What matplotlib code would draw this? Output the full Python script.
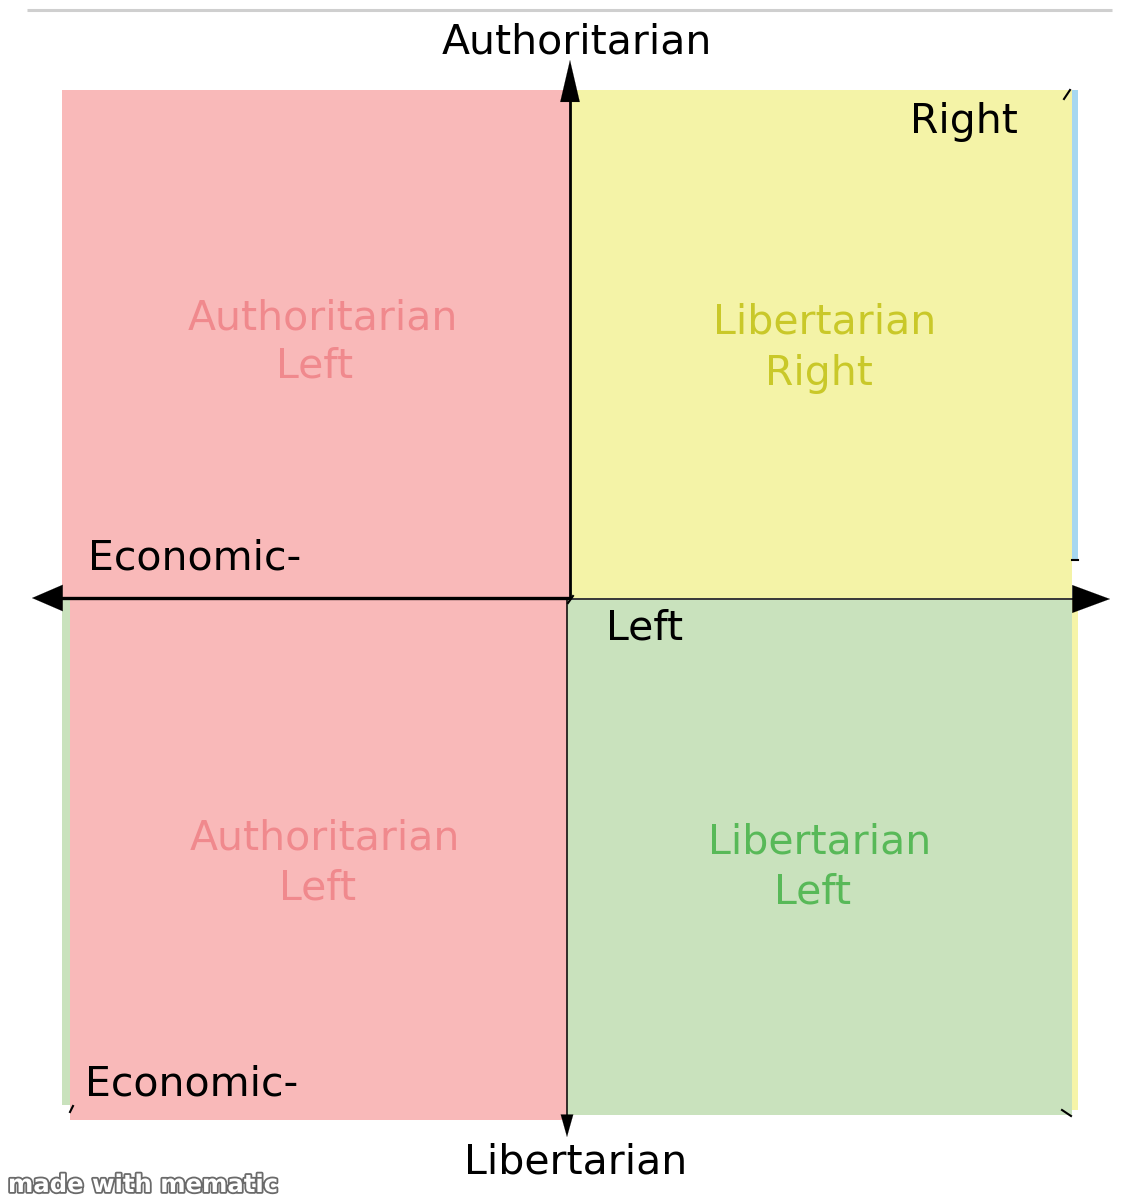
import matplotlib
matplotlib.use("Agg")
import matplotlib.pyplot as plt
import matplotlib.patheffects as pe
from matplotlib.patches import Rectangle

# ---- content ----
quadrant_names = ["Authoritarian\nLeft", "Libertarian\nRight", "Authoritarian\nLeft", "Libertarian\nLeft"]
quadrant_fill = ["#f9b9b9", "#f4f3a7", "#f9b9b9", "#c9e2bd"]
quadrant_text_color = ["#f0898d", "#c9c829", "#f0898d", "#58b958"]
axis_labels = ["Authoritarian", "Libertarian"]
side_labels = ["Right", "Economic-", "Left", "Economic-"]
watermark = "made with mematic"

# ---- layout (pixel space of the 1137x1200 canvas) ----
W, H = 1137, 1200
quad_boxes = [(62, 90, 570, 598), (570, 90, 1072, 598), (70, 600, 567, 1120), (567, 600, 1072, 1115)]
# (x of line 1, baseline 1, x of line 2, baseline 2)
quad_text_pos = [(323, 330, 315, 378), (825, 334, 819, 385), (325, 850, 318, 899), (820, 853, 813, 904)]
side_pos = [(910, 133), (88, 570), (606, 640), (85, 1095)]

fig = plt.figure(figsize=(W / 100, H / 100), dpi=100)
ax = fig.add_axes([0, 0, 1, 1])
ax.set_xlim(0, W)
ax.set_ylim(H, 0)
ax.axis("off")

# top grey rule
ax.plot([27, 1112], [10, 10], color="#cfcfcf", lw=2.2, solid_capstyle="butt")

# thin edge strips
strips = [((1072, 90, 1078, 560), "#a6d7f0"),
          ((62, 600, 70, 1105), "#c9e2bd"),
          ((1072, 600, 1078, 1110), "#f6f4a8")]
for (x0, y0, x1, y1), c in strips:
    ax.add_patch(Rectangle((x0, y0), x1 - x0, y1 - y0, facecolor=c, edgecolor="none"))

for (x0, y0, x1, y1), c in zip(quad_boxes, quadrant_fill):
    ax.add_patch(Rectangle((x0, y0), x1 - x0, y1 - y0, facecolor=c, edgecolor="none"))

# axes lines
ax.plot([45, 570], [598, 598], color="black", lw=2.4, solid_capstyle="butt")
ax.plot([570, 1075], [599, 599], color="black", lw=1.1, solid_capstyle="butt")
ax.plot([570, 570], [90, 598], color="black", lw=2.0, solid_capstyle="butt")
ax.plot([567, 567], [600, 1118], color="black", lw=1.1, solid_capstyle="butt")

def arrow(tip, base, hl, hw):
    ax.annotate("", xy=tip, xytext=base, xycoords="data",
                arrowprops=dict(arrowstyle=f"-|>,head_length={hl},head_width={hw}",
                                color="black", lw=0.1, shrinkA=0, shrinkB=0,
                                mutation_scale=10))

arrow((570, 60), (570, 100), 3.0, 0.7)
arrow((32, 598), (64, 598), 2.2, 0.95)
arrow((1110, 599), (1072, 599), 2.7, 1.0)
arrow((567, 1137), (567, 1118), 1.6, 0.45)

# small corner artefacts
for (xa, ya, xb, yb) in [(1064, 99, 1070, 90), (568, 603, 573, 596), (1072, 560, 1078, 560),
                         (70, 1112, 73, 1106), (1062, 1110, 1071, 1116)]:
    ax.plot([xa, xb], [ya, yb], color="black", lw=1.5)

fs = 29.5
for name, (x1, y1, x2, y2), col in zip(quadrant_names, quad_text_pos, quadrant_text_color):
    l1, l2 = name.split("\n")
    ax.text(x1, y1, l1, fontsize=fs, color=col, ha="center", va="baseline")
    ax.text(x2, y2, l2, fontsize=fs, color=col, ha="center", va="baseline")

ax.text(577, 53, axis_labels[0], fontsize=fs, color="black", ha="center", va="baseline")
ax.text(576, 1173, axis_labels[1], fontsize=fs, color="black", ha="center", va="baseline")
for lab, (x, y) in zip(side_labels, side_pos):
    ax.text(x, y, lab, fontsize=fs, color="black", ha="left", va="baseline")

ax.text(8, 1192, watermark, fontsize=17.5, fontweight="bold", color="white", ha="left",
        va="baseline", path_effects=[pe.withStroke(linewidth=2.6, foreground="#6a6a6a")])

fig.savefig("out.png", dpi=100)
